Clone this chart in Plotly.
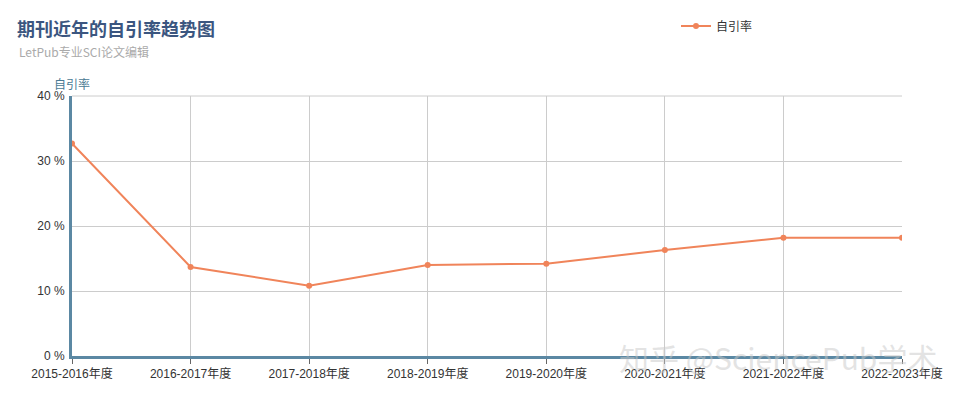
import plotly.graph_objects as go

categories = ["2015-2016年度", "2016-2017年度", "2017-2018年度", "2018-2019年度",
              "2019-2020年度", "2020-2021年度", "2021-2022年度", "2022-2023年度"]
self_cite_rate = [32.7, 13.7, 10.8, 14.0, 14.2, 16.3, 18.2, 18.2]
y_ticks = [0, 10, 20, 30, 40]
y_tick_labels = ["0 %", "10 %", "20 %", "30 %", "40 %"]

FONT = "Liberation Sans, Arial, Noto Sans CJK SC, sans-serif"
CJK = "Noto Sans CJK SC, sans-serif"
LINE_COLOR = "#f0845a"
AXIS_COLOR = "#5b88a3"

# plot area in pixels
L, R, T, B = 72, 902, 96, 356
PW, PH = R - L, B - T


def px(x):
    return (x - L) / PW


def py(y):
    return (B - y) / PH


fig = go.Figure()
fig.add_trace(go.Scatter(
    x=categories, y=self_cite_rate, mode="lines+markers", name="自引率",
    line=dict(color=LINE_COLOR, width=2),
    marker=dict(color=LINE_COLOR, size=6),
))

fig.update_layout(
    width=959, height=401,
    margin=dict(l=L, r=959 - R, t=T, b=401 - B),
    paper_bgcolor="white", plot_bgcolor="white",
    font=dict(family=FONT, size=12, color="#333"),
    title=dict(text="<b>期刊近年的自引率趋势图</b>", x=17/959, xanchor="left",
               y=1 - 30/401, yanchor="middle",
               font=dict(family=CJK, size=18, color="#3b5680")),
    showlegend=True,
    legend=dict(x=px(676), y=py(26), xanchor="left", yanchor="middle",
                orientation="h", font=dict(family=CJK, size=12, color="#333"),
                bgcolor="rgba(0,0,0,0)"),
    xaxis=dict(
        type="category", range=[0, len(categories) - 1],
        showgrid=True, gridcolor="#cccccc", gridwidth=1,
        showline=True, linecolor=AXIS_COLOR, linewidth=3,
        ticks="outside", ticklen=5, tickcolor="#666", tickwidth=1,
        tickfont=dict(family=FONT, size=12, color="#333"),
        zeroline=False,
    ),
    yaxis=dict(
        range=[0, 40], tickvals=y_ticks, ticktext=y_tick_labels,
        showgrid=True, gridcolor="#cccccc", gridwidth=1,
        showline=True, linecolor=AXIS_COLOR, linewidth=3,
        ticks="", tickfont=dict(family=FONT, size=12, color="#333"),
        zeroline=False, ticklabelstandoff=2,
    ),
    annotations=[
        dict(text="LetPub专业SCI论文编辑", x=px(17), y=py(52), xref="paper", yref="paper",
             xanchor="left", yanchor="middle", showarrow=False,
             font=dict(family=CJK, size=12, color="#aaaaaa")),
        dict(text="自引率", x=px(72), y=py(84), xref="paper", yref="paper",
             xanchor="center", yanchor="middle", showarrow=False,
             font=dict(family=CJK, size=12, color="#4a7a94")),
        dict(text="知乎 @SciencePub学术", x=px(778), y=py(357), xref="paper", yref="paper",
             xanchor="center", yanchor="middle", showarrow=False,
             font=dict(family=CJK, size=30, color="rgba(200,200,200,0.5)")),
    ],
)
# top border line
fig.add_shape(type="line", xref="paper", yref="paper", x0=0, x1=1, y0=1, y1=1,
              line=dict(color="#cccccc", width=1))

fig.write_html("out.html", config={"displayModeBar": False},
               post_script="document.body.style.margin='0';")
